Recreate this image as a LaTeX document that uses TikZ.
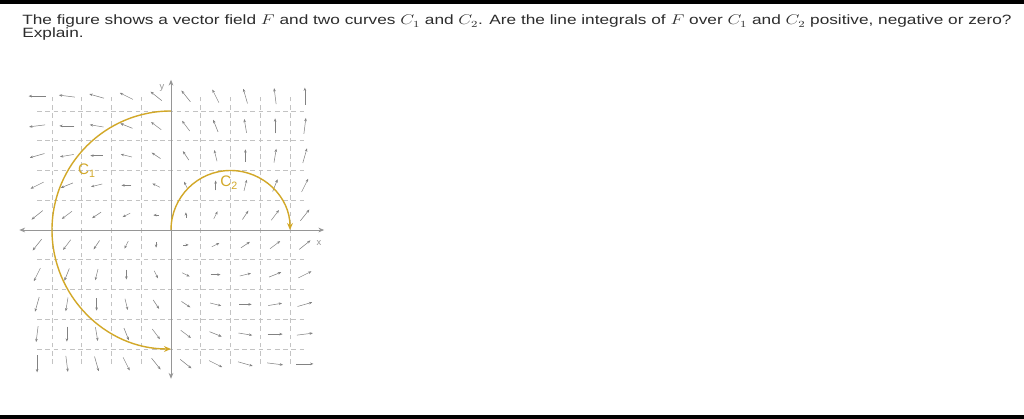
\documentclass[tikz,border=0pt]{standalone}
\usepackage{fontspec}
\setmainfont{Liberation Sans}
\usepackage{tikz}
\usetikzlibrary{arrows.meta}

\definecolor{curvegold}{RGB}{210,168,40}
\definecolor{fieldgray}{RGB}{130,130,130}
\definecolor{axisgray}{RGB}{150,150,150}
\definecolor{gridgray}{RGB}{195,195,195}
\definecolor{textgray}{RGB}{45,45,45}

\tikzset{
	field/.style={fieldgray, line width=0.45pt, -{Stealth[length=2.8pt,width=2.2pt]}},
	gridline/.style={gridgray, dash pattern=on 4pt off 3pt, line width=0.5pt},
	axis/.style={axisgray, line width=0.7pt, {Stealth[length=5pt,width=4pt]}-{Stealth[length=5pt,width=4pt]}},
	semicirc/.style={curvegold, line width=1.2pt},
	question/.style={anchor=north west, inner sep=0pt, align=left, text=textgray, font=\fontsize{11.5}{11}\selectfont, xscale=1.28, transform shape}
}

\begin{document}
\begin{tikzpicture}[x=0.03cm, y=-0.03cm]
	% Page with the two black bars
	\useasboundingbox (0,0) rectangle (1024,419);
	\fill[white] (0,0) rectangle (1024,419);
	\fill[black] (0,0) rectangle (1024,4);
	\fill[black] (0,415) rectangle (1024,419);

	% Question
	\node[question] (question) at (22,15) {The figure shows a vector field $F$ and two curves $C_1$ and $C_2$. Are the line integrals of $F$ over $C_1$ and $C_2$ positive, negative or zero?\\Explain.};

	\begin{scope}[shift={(171,230)}, x=0.8925cm, y=0.8925cm]
		% Dashed grid
		\foreach \k in {-4,-3,-2,-1,1,2,3,4} {
			\draw[gridline] (\k,-4.5) -- (\k,4.5);
			\draw[gridline] (-4.5,\k) -- (4.5,\k);
		}

		% Axes
		\coordinate (xmin) at (-5.1,0);		\coordinate (xmax) at (5.15,0);
		\coordinate (ymin) at (0,-5.0);		\coordinate (ymax) at (0,5.05);
		\draw[axis] (xmin) -- (xmax);
		\draw[axis] (ymin) -- (ymax);
		\node[axisgray, font=\fontsize{8}{8}\selectfont] (xlabel) at (4.97,-0.44) {x};
		\node[axisgray, font=\fontsize{8}{8}\selectfont] (ylabel) at (-0.3,4.77) {y};

		% Vector field F = (x-y, x+y)
		\foreach \px in {-4.5,-3.5,...,4.5} {
			\foreach \py in {-4.5,-3.5,...,4.5} {
				\pgfmathsetmacro{\vx}{\px-\py}
				\pgfmathsetmacro{\vy}{\px+\py}
				\pgfmathsetmacro{\vm}{sqrt((\vx)*(\vx)+(\vy)*(\vy))}
				\pgfmathsetmacro{\vl}{0.095*sqrt(\vm)/\vm}
				\pgfmathsetmacro{\dx}{\vl*(\vx)}
				\pgfmathsetmacro{\dy}{\vl*(\vy)}
				\draw[field] ({\px-(\dx)},{\py-(\dy)}) -- ({\px+(\dx)},{\py+(\dy)});
			}
		}

		% Curves
		\draw[semicirc, -{Stealth[length=6pt,width=5pt]}] (0,4) arc[start angle=90, end angle=270, radius=4];
		\draw[semicirc, -{Stealth[length=6pt,width=5pt]}] (0,0) arc[start angle=180, end angle=0, radius=2];
		\node[curvegold, font=\fontsize{13}{13}\selectfont] (c1label) at (-2.83,2.0) {C\textsubscript{1}};
		\node[curvegold, font=\fontsize{13}{13}\selectfont] (c2label) at (1.95,1.6) {C\textsubscript{2}};
	\end{scope}
\end{tikzpicture}
\end{document}
